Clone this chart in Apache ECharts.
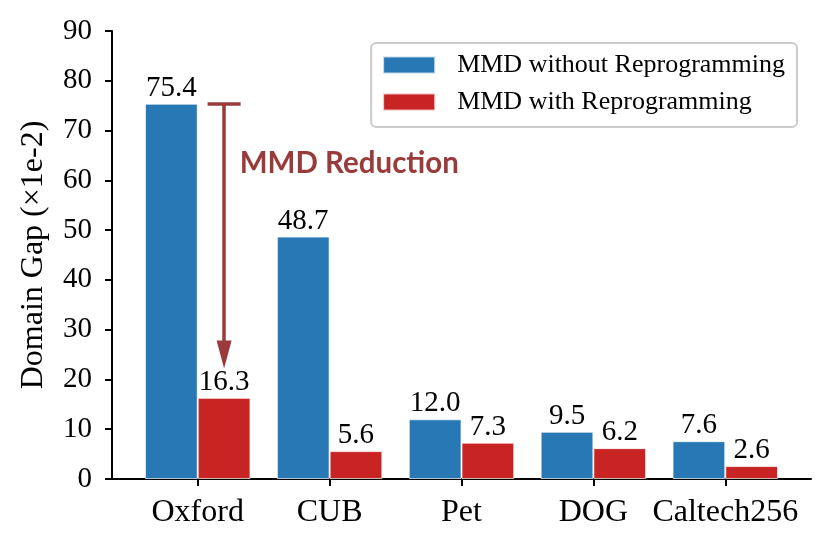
<!DOCTYPE html>
<html>
<head>
<meta charset="utf-8">
<script src="https://cdn.jsdelivr.net/npm/echarts@6/dist/echarts.min.js"></script>
<style>
html,body{margin:0;padding:0;background:#fff;}
#c{width:831px;height:548px;}
</style>
</head>
<body>
<div id="c"></div>
<script>
const categories = ['Oxford', 'CUB', 'Pet', 'DOG', 'Caltech256'];
const withoutReprog = [75.4, 48.7, 12.0, 9.5, 7.6];
const withReprog = [16.3, 5.6, 7.3, 6.2, 2.6];
const seriesNames = ['MMD without Reprogramming', 'MMD with Reprogramming'];
const yMin = 0, yMax = 90, yStep = 10;
// annotation: arrow on Oxford's red bar from the blue value down toward the red bar
const arrowX = 0.2;
const arrowFrom = 75.4;
const arrowTo = 25;
const capHalf = 0.125;
const annotText = 'MMD Reduction';
const annotPos = [0.28, 63.3];

const serif = 'Liberation Serif, Times New Roman, serif';
const blue = '#2878B5', red = '#C82423', annot = '#9A3B3B';

const chart = echarts.init(document.getElementById('c'), null, {renderer: 'canvas'});
const idx = categories.map((c, i) => i);

const barLabel = {
  show: true, position: 'top', distance: 1,
  fontFamily: serif, fontSize: 29, color: '#000',
  formatter: p => p.value[1].toFixed(1)
};

chart.setOption({
  animation: false,
  backgroundColor: '#fff',
  grid: {left: 112, right: 20, top: 31, bottom: 69},
  legend: {
    orient: 'vertical', right: 34, top: 43,
    data: seriesNames,
    icon: 'rect', itemWidth: 52, itemHeight: 17, itemGap: 11,
    padding: [9, 12, 12, 11],
    borderColor: '#cccccc', borderWidth: 2, borderRadius: 5,
    backgroundColor: 'rgba(255,255,255,0.8)',
    textStyle: {fontFamily: serif, fontSize: 26, color: '#000', padding: [0, 0, 0, 17]}
  },
  xAxis: {
    type: 'value', min: -0.65, max: 4.65,
    splitLine: {show: false},
    axisLine: {show: true, onZero: false, lineStyle: {color: '#000', width: 2}},
    axisTick: {show: true, length: 7, lineStyle: {color: '#000', width: 2}, customValues: idx},
    axisLabel: {
      customValues: idx, margin: 18,
      fontFamily: serif, fontSize: 32, color: '#000',
      formatter: v => categories[Math.round(v)]
    }
  },
  yAxis: {
    type: 'value', min: yMin, max: yMax, interval: yStep,
    name: 'Domain Gap (×1e-2)', nameLocation: 'middle', nameGap: 62, nameRotate: 90,
    nameTextStyle: {fontFamily: serif, fontSize: 32, color: '#000'},
    splitLine: {show: false},
    axisLine: {show: true, onZero: false, lineStyle: {color: '#000', width: 2}},
    axisTick: {show: true, length: 7, lineStyle: {color: '#000', width: 2}},
    axisLabel: {margin: 20, fontFamily: serif, fontSize: 29, color: '#000'}
  },
  series: [
    {
      name: seriesNames[0], type: 'bar',
      data: withoutReprog.map((v, i) => [i, v]),
      barWidth: '40%', barGap: '0%',
      itemStyle: {color: blue, borderColor: 'rgba(255,255,255,0.7)', borderWidth: 1},
      label: barLabel
    },
    {
      name: seriesNames[1], type: 'bar',
      data: withReprog.map((v, i) => [i, v]),
      barWidth: '40%', barGap: '0%',
      itemStyle: {color: red, borderColor: 'rgba(255,255,255,0.7)', borderWidth: 1},
      label: barLabel
    },
    {
      type: 'scatter', silent: true,
      data: [annotPos], symbolSize: 0,
      itemStyle: {opacity: 1},
      label: {
        show: true, position: 'right', distance: 5,
        formatter: annotText,
        fontFamily: 'Lato, Open Sans, sans-serif', fontWeight: 'bold', fontSize: 29.5, color: annot
      },
      markLine: {
        silent: true, animation: false,
        label: {show: false},
        lineStyle: {color: annot, width: 3.5, type: 'solid', opacity: 1},
        data: [
          [{coord: [arrowX, arrowFrom], symbol: 'none'}, {coord: [arrowX, arrowTo], symbol: 'triangle', symbolSize: [15, 28]}],
          [{coord: [arrowX - capHalf, arrowFrom], symbol: 'none'}, {coord: [arrowX + capHalf, arrowFrom], symbol: 'none'}]
        ]
      }
    }
  ]
});
</script>
</body>
</html>
